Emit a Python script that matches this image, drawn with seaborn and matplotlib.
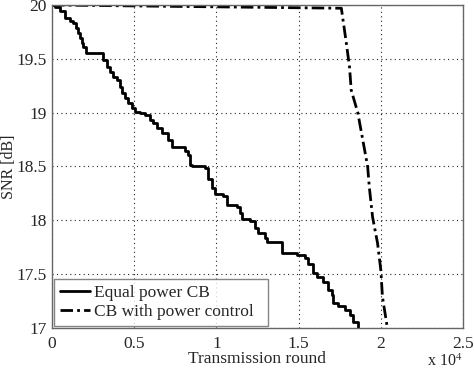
import numpy as np
import pandas as pd
import matplotlib
matplotlib.use("Agg")
import matplotlib.pyplot as plt
import seaborn as sns
from matplotlib.ticker import FuncFormatter
from matplotlib.lines import Line2D

# Equal power CB (staircase descent), x in transmission rounds
equal_x = [0, 180, 490, 790, 1100, 1280, 1460, 1580, 1700, 1830, 1890, 2070,
           2920, 3100, 3350, 3530, 3710, 3950, 4140, 4260, 4440, 4620, 4870,
           5050, 5350, 5660, 5960, 6140, 6390, 6690, 6870, 7060, 7300, 7790,
           8090, 8270, 8400, 8520, 9310, 9490, 9730, 9920, 10400, 10650, 11250,
           11440, 11560, 12040, 12350, 12530, 12960, 13080, 13750, 13990, 14900,
           15090, 15390, 15570, 15880, 16120, 16490, 16790, 17030, 17090, 17400,
           17820, 18130, 18310, 18610]
equal_y = [20.0, 19.98, 19.94, 19.88, 19.85, 19.83, 19.79, 19.74, 19.69, 19.65,
           19.61, 19.55, 19.55, 19.49, 19.42, 19.38, 19.33, 19.30, 19.24, 19.18,
           19.14, 19.09, 19.04, 19.01, 19.00, 18.98, 18.93, 18.90, 18.86, 18.81,
           18.81, 18.75, 18.68, 18.68, 18.64, 18.61, 18.51, 18.50, 18.49, 18.38,
           18.30, 18.24, 18.23, 18.14, 18.12, 18.07, 18.01, 17.99, 17.93, 17.88,
           17.84, 17.80, 17.80, 17.70, 17.68, 17.68, 17.65, 17.59, 17.51, 17.47,
           17.43, 17.35, 17.31, 17.23, 17.20, 17.17, 17.12, 17.06, 17.0]

# CB with power control
pc_x = [0, 17600, 17900, 18100, 18200, 18600, 18900, 19200, 19300, 19500,
        19800, 20000, 20100, 20400]
pc_y = [20.0, 19.97, 19.65, 19.42, 19.21, 19.0, 18.75, 18.5, 18.31, 18.03,
        17.79, 17.54, 17.29, 17.0]

labels = ["Equal power CB", "CB with power control"]
x_ticks = [0, 5000, 10000, 15000, 20000, 25000]
y_ticks = [17, 17.5, 18, 18.5, 19, 19.5, 20]

sns.set_theme(style="white")
plt.rcParams["font.family"] = ["Liberation Serif", "DejaVu Serif"]
plt.rcParams["mathtext.fontset"] = "stix"

W, H = 474, 372
fig = plt.figure(figsize=(W / 100, H / 100), dpi=100)
ax = fig.add_axes([52 / W, 1 - 328 / H, (463 - 52) / W, (328 - 5) / H])

dash_dot = (0, (4.5, 1.5, 1, 1.5))
eq = pd.DataFrame({"x": equal_x, "y": equal_y})
pc = pd.DataFrame({"x": pc_x, "y": pc_y})
sns.lineplot(data=eq, x="x", y="y", color="black", linewidth=2, ax=ax,
             sort=False, drawstyle="steps-post")
sns.lineplot(data=pc, x="x", y="y", color="black", linewidth=2, ax=ax,
             sort=False, linestyle=dash_dot)

ax.set_xlim(0, 25000)
ax.set_ylim(17, 20)
ax.set_xticks(x_ticks)
ax.set_yticks(y_ticks)
ax.xaxis.set_major_formatter(FuncFormatter(lambda v, p: f"{v / 1e4:g}"))
ax.yaxis.set_major_formatter(FuncFormatter(lambda v, p: f"{v:g}"))
ax.grid(True, color="#222222", linestyle=(0, (1, 3)), linewidth=0.8)
ax.tick_params(direction="in", labelsize=12.5, length=4, color="#666666")
ax.tick_params(axis="x", pad=6)
ax.tick_params(axis="y", pad=4)
for s in ax.spines.values():
    s.set_color("#666666")
    s.set_linewidth(1)

ax.set_xlabel("Transmission round", fontsize=12.5, labelpad=-1)
ax.set_ylabel("SNR [dB]", fontsize=11.5)
ax.yaxis.set_label_coords(-0.085, 0.5)
ax.text(1.0, -0.118, r"x 10$^4$", transform=ax.transAxes, ha="right",
        va="baseline", fontsize=11.5)

handles = [Line2D([], [], color="black", lw=2),
           Line2D([], [], color="black", lw=2, linestyle=dash_dot)]
leg = ax.legend(handles, labels, loc="lower left", fontsize=12.5, frameon=True,
                fancybox=False, borderpad=0.35, labelspacing=0.15,
                handlelength=1.7, handletextpad=0.25, borderaxespad=0,
                bbox_to_anchor=(0.005, 0.006, 0.52, 0.2), mode="expand")
leg.get_frame().set_edgecolor("#666666")
leg.get_frame().set_linewidth(1)

fig.savefig("out.png", dpi=100)
